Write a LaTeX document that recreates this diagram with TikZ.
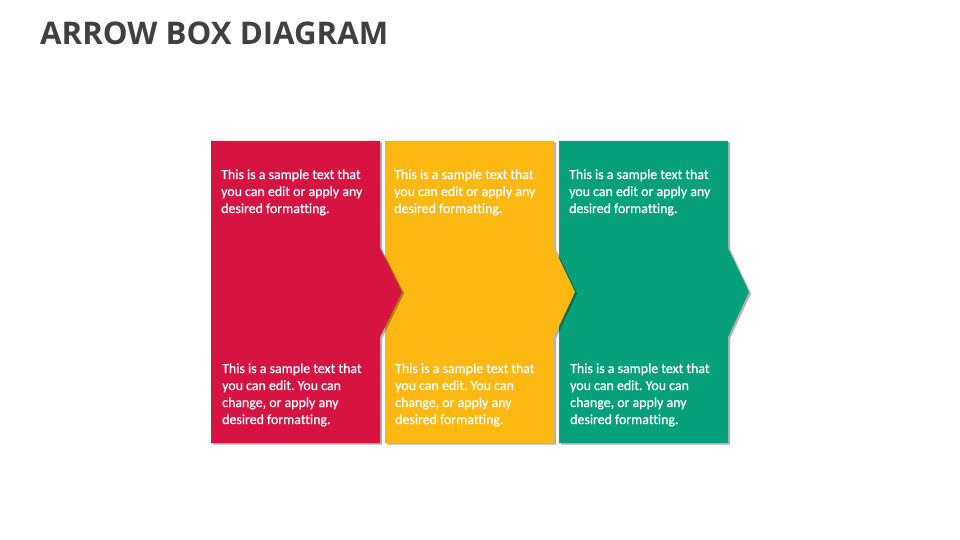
\documentclass[tikz,border=0pt]{standalone}
\usepackage{fontspec}
\setmainfont[Ligatures=NoCommon,FakeBold=0.8]{Carlito}
\newfontfamily\titlefont{Open Sans}
\usetikzlibrary{shadows}
\frenchspacing
\definecolor{cred}{RGB}{215,20,65}
\definecolor{cyel}{RGB}{253,184,18}
\definecolor{cgrn}{RGB}{6,160,122}
\definecolor{ctitle}{RGB}{64,64,64}
\tikzset{
  chev/.style={drop shadow={shadow xshift=2pt,shadow yshift=-1.5pt,opacity=0.3,fill=black}},
  txt/.style={anchor=base west,inner sep=0pt,text=white,font=\fontsize{13.9}{17}\selectfont},
}
\begin{document}
\begin{tikzpicture}[x=1pt,y=-1pt]
\useasboundingbox (0,0) rectangle (960,540);
\node[anchor=base west,inner sep=0pt,text=ctitle,font=\titlefont\bfseries\fontsize{31.2}{36}\selectfont] (title) at (40,45) {ARROW BOX DIAGRAM};
% shapes (green first so red tip lies on top)
\fill[cgrn,chev] (559,141) -- (728,141) -- (728,248) -- (749,292) -- (728,337) -- (728,443) -- (559,443) -- cycle;
\fill[cyel,chev] (385,141) -- (554,141) -- (554,248) -- (575,292) -- (554,337) -- (554,443) -- (385,443) -- cycle;
\fill[cred,chev] (211,141) -- (380,141) -- (380,248) -- (402,292) -- (380,337) -- (380,443) -- (211,443) -- cycle;
% texts
\node[txt] (t1) at (221,179) {\parbox[t]{170pt}{\raggedright This is a sample text that\\you can edit or apply any\\desired formatting.}};
\node[txt] (t2) at (394,179) {\parbox[t]{170pt}{\raggedright This is a sample text that\\you can edit or apply any\\desired formatting.}};
\node[txt] (t3) at (569,179) {\parbox[t]{170pt}{\raggedright This is a sample text that\\you can edit or apply any\\desired formatting.}};
\node[txt] (b1) at (222,373) {\parbox[t]{170pt}{\raggedright This is a sample text that\\you can edit. You can\\change, or apply any\\desired formatting.}};
\node[txt] (b2) at (395,373) {\parbox[t]{170pt}{\raggedright This is a sample text that\\you can edit. You can\\change, or apply any\\desired formatting.}};
\node[txt] (b3) at (570,373) {\parbox[t]{170pt}{\raggedright This is a sample text that\\you can edit. You can\\change, or apply any\\desired formatting.}};
\end{tikzpicture}
\end{document}
